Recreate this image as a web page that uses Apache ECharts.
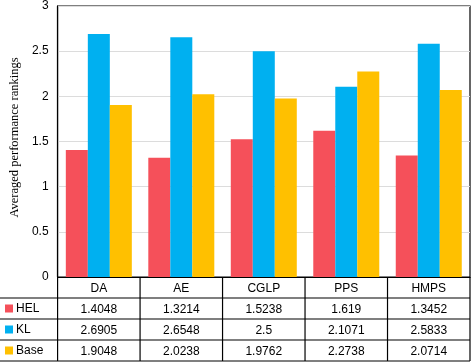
<!DOCTYPE html>
<html><head><meta charset="utf-8">
<script src="https://cdn.jsdelivr.net/npm/echarts@6/dist/echarts.min.js"></script>
<style>html,body{margin:0;padding:0;background:#fff}#c{width:474px;height:362px}</style>
</head><body><div id="c"></div>
<script>
const categories = ['DA', 'AE', 'CGLP', 'PPS', 'HMPS'];
const helValues = [1.4048, 1.3214, 1.5238, 1.619, 1.3452];
const klValues = [2.6905, 2.6548, 2.5, 2.1071, 2.5833];
const baseValues = [1.9048, 2.0238, 1.9762, 2.2738, 2.0714];
const seriesNames = ['HEL', 'KL', 'Base'];
const colors = ['#F5505A', '#00B0F0', '#FFC000'];
const allValues = [helValues, klValues, baseValues];

const chart = echarts.init(document.getElementById('c'));
const tableFont = 'Liberation Sans';
chart.setOption({
  animation: false,
  grid: {left: 45, right: 4, top: 4, bottom: 85, show: true, borderColor: '#000', borderWidth: 1.2},
  xAxis: {
    type: 'category', data: categories,
    axisLine: {lineStyle: {color: '#000', width: 1.2}},
    axisTick: {show: false},
    axisLabel: {
      margin: 1, interval: 0,
      formatter: function (v, i) {
        return [v, helValues[i], klValues[i], baseValues[i]].map(function (t) { return '{a|' + t + '}'; }).join('\n');
      },
      rich: {a: {fontFamily: tableFont, fontSize: 12, color: '#000', lineHeight: 21, height: 21, verticalAlign: 'middle'}}
    }
  },
  yAxis: {
    type: 'value', min: 0, max: 3, interval: 0.5,
    name: 'Averaged performance rankings', nameLocation: 'middle', nameGap: 34,
    nameTextStyle: {fontFamily: 'Liberation Serif', fontSize: 12.5, color: '#000', padding: [0, 0, 0, 8]},
    axisLine: {show: true, lineStyle: {color: '#000', width: 1.2}},
    axisLabel: {fontFamily: tableFont, fontSize: 12, color: '#000', margin: 9},
    splitLine: {lineStyle: {color: '#dcdcdc', width: 1}}
  },
  series: allValues.map(function (vals, k) {
    return {name: seriesNames[k], type: 'bar', data: vals, barWidth: 22, barGap: '0%',
      itemStyle: {color: colors[k]}};
  })
});

// table lines and legend column
const x0 = chart.convertToPixel({xAxisIndex: 0}, 0);
const x1 = chart.convertToPixel({xAxisIndex: 0}, 1);
const band = x1 - x0;
const left = x0 - band / 2;
const right = left + band * categories.length;
const yAxis0 = chart.convertToPixel({yAxisIndex: 0}, 0);
const rowH = 21;
const bottom = yAxis0 + rowH * 4;
const g = [];
const ln = function (a, b, c, d) { g.push({type: 'line', shape: {x1: a, y1: b, x2: c, y2: d}, style: {stroke: '#000', lineWidth: 1.2}, silent: true}); };
for (let r = 1; r <= 3; r++) ln(0, yAxis0 + rowH * r, right, yAxis0 + rowH * r);
ln(0, bottom, right, bottom);
for (let i = 0; i <= categories.length; i++) ln(left + band * i, yAxis0, left + band * i, bottom);
seriesNames.forEach(function (n, k) {
  const cy = yAxis0 + rowH * (k + 1) + rowH / 2;
  g.push({type: 'rect', shape: {x: 5, y: cy - 4, width: 8, height: 8}, style: {fill: colors[k]}, silent: true});
  g.push({type: 'text', x: 16, y: cy, style: {text: n, fontFamily: tableFont, fontSize: 12, fill: '#000', verticalAlign: 'middle', align: 'left'}, silent: true});
});
chart.setOption({graphic: g});
</script></body></html>
